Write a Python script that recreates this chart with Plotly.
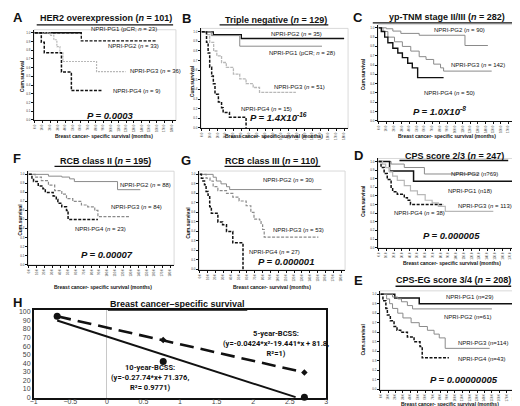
import plotly.graph_objects as go

W, H = 520, 406
BLACK = "#111111"
GRAY = "#8a8a8a"
LIGHT = "#b8b8b8"
FONT = "Arial, Liberation Sans"

# ---- Kaplan-Meier curves (months, cumulative survival) ----
A_PG1_T = [0, 61]
A_PG1_S = [1.0, 1.0]
A_PG2_T = [0, 61, 160]
A_PG2_S = [1.0, 0.906, 0.906]
A_PG3_T = [0, 20, 25, 29, 33, 37, 81, 119]
A_PG3_S = [1.0, 0.97, 0.92, 0.84, 0.77, 0.67, 0.555, 0.555]
A_PG4_T = [0, 8.6, 12.5, 35, 48, 89]
A_PG4_S = [1.0, 0.89, 0.77, 0.55, 0.337, 0.337]

B_PG2_T = [0, 14.6, 50, 180]
B_PG2_S = [1.0, 0.97, 0.93, 0.93]
B_PG1_T = [0, 12, 48, 152]
B_PG1_S = [1.0, 0.96, 0.85, 0.85]
B_PG3_T = [0, 6, 10, 15, 19, 25, 31, 40, 48, 56, 65, 73, 119]
B_PG3_S = [1.0, 0.97, 0.89, 0.80, 0.75, 0.68, 0.63, 0.56, 0.51, 0.46, 0.42, 0.37, 0.37]
B_PG4_T = [0, 6, 8, 10, 12.5, 14.6, 16.7, 21, 25, 27, 35, 56]
B_PG4_S = [1.0, 0.89, 0.78, 0.63, 0.54, 0.46, 0.35, 0.27, 0.21, 0.16, 0.11, 0.0]

C_PG2_T = [0, 10, 18.5, 29, 53, 113, 143]
C_PG2_S = [1.0, 0.99, 0.965, 0.94, 0.92, 0.81, 0.81]
C_PG3_T = [0, 5.6, 12, 20.7, 31, 42, 53, 62, 72, 81, 85, 148]
C_PG3_S = [1.0, 0.96, 0.90, 0.85, 0.80, 0.75, 0.69, 0.66, 0.61, 0.57, 0.535, 0.535]
C_PG4_T = [0, 3.4, 7.8, 12, 18.5, 25, 31, 38, 44, 51, 85]
C_PG4_S = [1.0, 0.96, 0.90, 0.84, 0.78, 0.73, 0.68, 0.62, 0.57, 0.465, 0.465]

D_PG2_T = [0, 16, 33, 59, 130]
D_PG2_S = [1.0, 0.97, 0.93, 0.855, 0.855]
D_PG1_T = [0, 14, 45, 180]
D_PG1_S = [1.0, 0.89, 0.77, 0.77]
D_PG3_T = [0, 5, 9, 14, 18, 24, 33, 41, 50, 60, 69, 77, 86, 148]
D_PG3_S = [1.0, 0.97, 0.93, 0.88, 0.83, 0.78, 0.72, 0.66, 0.615, 0.55, 0.52, 0.48, 0.42, 0.42]
D_PG4_T = [0, 3, 7, 11, 16, 18, 24, 33, 37, 41, 84]
D_PG4_S = [1.0, 0.93, 0.86, 0.79, 0.70, 0.65, 0.62, 0.58, 0.55, 0.50, 0.50]

E_PG1_T = [0, 19, 52, 180]
E_PG1_S = [1.0, 0.96, 0.90, 0.90]
E_PG2_T = [0, 16, 23, 28, 36, 43, 150]
E_PG2_S = [1.0, 0.97, 0.95, 0.92, 0.88, 0.845, 0.845]
E_PG3_T = [0, 8, 12, 16, 23, 30, 41, 52, 63, 72, 79, 87, 147]
E_PG3_S = [1.0, 0.95, 0.90, 0.85, 0.80, 0.75, 0.70, 0.66, 0.62, 0.58, 0.54, 0.43, 0.43]
E_PG4_T = [0, 3, 7, 9, 13, 18, 22, 27, 36, 45, 53, 56, 92]
E_PG4_S = [1.0, 0.93, 0.85, 0.78, 0.72, 0.66, 0.62, 0.60, 0.55, 0.50, 0.45, 0.33, 0.33]

F_PG2_T = [0, 25, 42, 52, 58, 113, 142]
F_PG2_S = [1.0, 0.98, 0.97, 0.95, 0.92, 0.83, 0.83]
F_PG3_T = [0, 8, 16, 25, 33, 42, 48, 56, 67, 75, 84, 88, 128]
F_PG3_S = [1.0, 0.97, 0.93, 0.88, 0.82, 0.78, 0.73, 0.70, 0.66, 0.64, 0.60, 0.53, 0.53]
F_PG4_T = [0, 4, 6, 12, 18, 21, 31, 35, 37, 42, 48, 50, 88]
F_PG4_S = [1.0, 0.96, 0.92, 0.87, 0.84, 0.80, 0.76, 0.72, 0.68, 0.64, 0.60, 0.50, 0.50]

G_PG2_T = [0, 17, 21, 27, 34, 38, 155]
G_PG2_S = [1.0, 0.97, 0.93, 0.90, 0.87, 0.84, 0.84]
G_PG3_T = [0, 8, 13, 17, 23, 34, 42, 50, 59, 65, 69, 76, 78, 80, 82, 151]
G_PG3_S = [1.0, 0.96, 0.93, 0.87, 0.83, 0.80, 0.76, 0.72, 0.67, 0.60, 0.53, 0.52, 0.47, 0.42, 0.34, 0.34]
G_PG4_T = [0, 2, 4, 6, 8, 10.5, 12.6, 14.7, 23, 29, 34, 42, 55]
G_PG4_S = [1.0, 0.96, 0.93, 0.89, 0.82, 0.78, 0.66, 0.59, 0.50, 0.47, 0.40, 0.28, 0.0]

MONTH_TICKS = list(range(0, 190, 10))
SURV_TICKS = [i / 10 for i in range(11)]

# ---- panel H: NPRI group score vs BCSS (%) ----
H_X = [-0.68, 0.77, 2.7]
H_BCSS5 = [95, 67, 29]
H_BCSS10 = [95, 42, 0]
H_FIT10_X = [-0.68, 2.58]
H_FIT10_Y = [90, 0]
H_XTICKS = [-1, -0.5, 0, 0.5, 1, 1.5, 2, 2.5, 3]
H_YTICKS = list(range(0, 101, 10))

# panel boxes in pixels: x at 0 months, x at 180 months, y at 1.0, y at 0.0
BOXES = {
    "A": (23, 162, 23, 111),
    "B": (192, 336, 22, 119),
    "C": (371, 510, 18, 112),
    "D": (371, 512, 153, 240),
    "E": (373, 508, 287, 383),
    "F": (17, 160, 166, 257),
    "G": (190, 333, 166, 262),
}
AXIS_ID = {"A": "", "B": "2", "C": "3", "D": "4", "E": "5", "F": "6", "G": "7"}

CURVES = [
    ("A", A_PG1_T, A_PG1_S, BLACK, 1.3, "solid"),
    ("A", A_PG2_T, A_PG2_S, BLACK, 1.3, "3px,1.5px"),
    ("A", A_PG3_T, A_PG3_S, LIGHT, 1.2, "2px,1px"),
    ("A", A_PG4_T, A_PG4_S, BLACK, 1.5, "3px,1.5px"),
    ("B", B_PG2_T, B_PG2_S, BLACK, 1.3, "solid"),
    ("B", B_PG1_T, B_PG1_S, GRAY, 1.0, "solid"),
    ("B", B_PG3_T, B_PG3_S, LIGHT, 1.3, "3px,1px"),
    ("B", B_PG4_T, B_PG4_S, BLACK, 1.5, "3px,1.5px"),
    ("C", C_PG2_T, C_PG2_S, GRAY, 1.0, "solid"),
    ("C", C_PG3_T, C_PG3_S, GRAY, 1.0, "solid"),
    ("C", C_PG4_T, C_PG4_S, BLACK, 1.4, "solid"),
    ("D", D_PG2_T, D_PG2_S, GRAY, 1.0, "solid"),
    ("D", D_PG1_T, D_PG1_S, BLACK, 1.5, "solid"),
    ("D", D_PG3_T, D_PG3_S, LIGHT, 1.2, "solid"),
    ("D", D_PG4_T, D_PG4_S, BLACK, 1.5, "3px,1.5px"),
    ("E", E_PG1_T, E_PG1_S, BLACK, 1.5, "solid"),
    ("E", E_PG2_T, E_PG2_S, GRAY, 1.0, "solid"),
    ("E", E_PG3_T, E_PG3_S, GRAY, 1.0, "solid"),
    ("E", E_PG4_T, E_PG4_S, BLACK, 1.5, "3px,1.5px"),
    ("F", F_PG2_T, F_PG2_S, GRAY, 1.0, "solid"),
    ("F", F_PG3_T, F_PG3_S, GRAY, 1.2, "3px,1.5px"),
    ("F", F_PG4_T, F_PG4_S, BLACK, 1.5, "3px,1.5px"),
    ("G", G_PG2_T, G_PG2_S, GRAY, 1.0, "solid"),
    ("G", G_PG3_T, G_PG3_S, GRAY, 1.2, "3px,1.5px"),
    ("G", G_PG4_T, G_PG4_S, BLACK, 1.5, "3px,1.5px"),
]

TITLES = {
    "A": ("HER2 overexpression (<i>n</i> = 101)", 95, 8, 25, 163, 15),
    "B": ("Triple negative (<i>n</i> = 129)", 267, 10, 210, 320, 15),
    "C": ("yp-TNM stage II/III (<i>n</i> = 282)", 440, 7, 365, 517, 13),
    "D": ("CPS score 2/3 (<i>n</i> = 247)", 448, 147, 392, 502, 152),
    "E": ("CPS-EG score 3/4 (<i>n</i> = 208)", 447, 273, 388, 505, 279),
    "F": ("RCB class II (<i>n</i> = 195)", 95, 152, 43, 140, 158),
    "G": ("RCB class III (<i>n</i> = 110)", 263, 152, 215, 312, 158),
}
LETTERS = {"A": (6, 8), "B": (177, 9), "C": (350, 8), "D": (351, 147),
           "E": (351, 273), "F": (5, 150), "G": (176, 152), "H": (6, 295)}
YTITLES = {"A": (10, 67), "B": (182, 72), "C": (355, 65), "D": (355, 193),
           "E": (355, 333), "F": (8, 212), "G": (178, 215)}
XTITLES = {"A": (93, 127), "B": (265, 127), "C": (440, 127), "D": (445, 256),
           "E": (443, 398), "F": (92, 280), "G": (263, 280)}

CURVE_LABELS = [
    ("NPRI-PG1 (pCR; <i>n</i> = 23)", 78, 19), ("NPRI-PG2 (<i>n</i> = 33)", 95, 36),
    ("NPRI-PG3 (<i>n</i> = 36)", 117, 62), ("NPRI-PG4 (<i>n</i> = 9)", 100, 82),
    ("NPRI-PG2 (<i>n</i> = 35)", 260, 24), ("NPRI-PG1 (pCR; <i>n</i> = 28)", 258, 43),
    ("NPRI-PG3 (<i>n</i> = 51)", 263, 78), ("NPRI-PG4 (<i>n</i> = 15)", 230, 100),
    ("NPRI-PG2 (<i>n</i> = 90)", 425, 20), ("NPRI-PG3 (<i>n</i> = 142)", 442, 56),
    ("NPRI-PG4 (<i>n</i> = 50)", 415, 84),
    ("NPRI-PG2 (n?69)", 442, 166), ("NPRI-PG1 (n18)", 439, 183),
    ("NPRI-PG3 (<i>n</i> = 113)", 449, 198), ("NPRI-PG4 (<i>n</i> = 38)", 384, 205),
    ("NPRI-PG1 (n=29)", 437, 290), ("NPRI-PG2 (n=61)", 435, 310),
    ("NPRI-PG3 (n=114)", 449, 336), ("NPRI-PG4 (n=43)", 449, 352),
    ("NPRI-PG2 (<i>n</i> = 88)", 107, 177), ("NPRI-PG3 (<i>n</i> = 84)", 98, 199),
    ("NPRI-PG4 (<i>n</i> = 23)", 62, 221),
    ("NPRI-PG2 (<i>n</i> = 30)", 252, 172), ("NPRI-PG3 (<i>n</i> = 53)", 262, 222),
    ("NPRI-PG4 (<i>n</i> = 27)", 238, 244),
]
P_VALUES = [
    ("<i>P</i> = 0.0003", 100, 107), ("<i>P</i> = 1.4X10<sup>-16</sup>", 270, 108),
    ("<i>P</i> = 1.0X10<sup>-8</sup>", 432, 102), ("<i>P</i> = 0.000005", 445, 228),
    ("<i>P</i> = 0.00000005", 457, 373), ("<i>P</i> = 0.00007", 96, 247),
    ("<i>P</i> = 0.000001", 277, 254),
]


def px(x, y):
    return x / W, 1 - y / H


def text(fig, s, x, y, size, bold=False, italic=False, anchor="center", angle=0, family=FONT):
    xx, yy = px(x, y)
    fig.add_annotation(
        x=xx, y=yy, xref="paper", yref="paper", text=s, showarrow=False,
        xanchor=anchor, yanchor="middle", textangle=angle,
        font=dict(family=family, size=size, color=BLACK,
                  weight="bold" if bold else "normal",
                  style="italic" if italic else "normal"),
    )


fig = go.Figure()
layout = {}

# KM panel axes
for key, (x0, x1, y1, y0) in BOXES.items():
    i = AXIS_ID[key]
    xs = (x1 - x0) / 180
    ys = (y0 - y1)
    xlo, xhi = -1, 185
    ylo, yhi = -0.005, 1.035
    left, right = x0 + xlo * xs, x0 + xhi * xs
    top, bottom = y0 - yhi * ys, y0 - ylo * ys
    layout[f"xaxis{i}"] = dict(
        domain=[left / W, right / W], range=[xlo, xhi], anchor=f"y{i}",
        tickvals=MONTH_TICKS, ticktext=[f"{v}.0" for v in MONTH_TICKS],
        tickangle=-90, tickfont=dict(size=3, family=FONT, color="#333"),
        showline=True, linecolor=BLACK, linewidth=1, ticks="outside",
        ticklen=2, tickwidth=0.6, tickcolor=BLACK, showgrid=False, zeroline=False,
    )
    layout[f"yaxis{i}"] = dict(
        domain=[1 - bottom / H, 1 - top / H], range=[ylo, yhi], anchor=f"x{i}",
        tickvals=SURV_TICKS, tickformat=".1f",
        tickfont=dict(size=3, family=FONT, color="#333"),
        showline=True, linecolor=BLACK, linewidth=1, ticks="outside",
        ticklen=2, tickwidth=0.6, tickcolor=BLACK, showgrid=False, zeroline=False,
    )
    fig.add_shape(type="rect", xref=f"x{i} domain", yref=f"y{i} domain",
                  x0=0, x1=1, y0=0, y1=1, line=dict(color="#cfcfcf", width=0.8),
                  layer="below")

for key, t, s, color, width, dash in CURVES:
    i = AXIS_ID[key]
    fig.add_trace(go.Scatter(
        x=t, y=s, mode="lines", line=dict(color=color, width=width, dash=dash, shape="hv"),
        xaxis=f"x{i}", yaxis=f"y{i}", showlegend=False, hoverinfo="skip",
    ))

# panel H
layout["xaxis8"] = dict(
    domain=[22 / W, 318 / W], range=[-1, 3], anchor="y8", tickvals=H_XTICKS,
    tickfont=dict(size=7, family=FONT, color="#444"), showline=True, mirror=True,
    linecolor=BLACK, linewidth=1.5, ticks="", showgrid=False,
    zeroline=True, zerolinecolor="#c8c8c8", zerolinewidth=1, ticklabelstandoff=-5,
)
layout["yaxis8"] = dict(
    domain=[1 - 392.3 / H, 1 - 303.3 / H], range=[-1.5, 102], anchor="x8",
    tickvals=H_YTICKS, tickfont=dict(size=7, family=FONT, color="#444"),
    showline=True, mirror=True, linecolor=BLACK, linewidth=1.5, ticks="",
    showgrid=False, zeroline=False,
)
fig.add_trace(go.Scatter(
    x=H_FIT10_X, y=H_FIT10_Y, mode="lines", line=dict(color=BLACK, width=2),
    xaxis="x8", yaxis="y8", showlegend=False, hoverinfo="skip",
))
fig.add_trace(go.Scatter(
    x=H_X, y=H_BCSS5, mode="lines+markers", line=dict(color=BLACK, width=2.6, dash="14px,7px"),
    marker=dict(symbol="diamond", size=5, color=BLACK),
    xaxis="x8", yaxis="y8", showlegend=False, hoverinfo="skip",
))
fig.add_trace(go.Scatter(
    x=H_X, y=H_BCSS10, mode="markers", marker=dict(symbol="circle", size=7, color=BLACK),
    xaxis="x8", yaxis="y8", showlegend=False, hoverinfo="skip", cliponaxis=False,
))

fig.update_layout(
    width=W, height=H, margin=dict(l=0, r=0, t=0, b=0),
    paper_bgcolor="white", plot_bgcolor="white", showlegend=False, **layout,
)

# titles, underlines, letters
for key, (s, cx, cy, u0, u1, uy) in TITLES.items():
    text(fig, s, cx, cy, 9, bold=True)
    fig.add_shape(type="line", xref="paper", yref="paper",
                  x0=u0 / W, x1=u1 / W, y0=1 - uy / H, y1=1 - uy / H,
                  line=dict(color=BLACK, width=1.3))
text(fig, "Breast cancer–specific survival", 167, 297, 9, bold=True)
fig.add_shape(type="line", xref="paper", yref="paper",
              x0=97 / W, x1=238 / W, y0=1 - 303 / H, y1=1 - 303 / H,
              line=dict(color=BLACK, width=1.3))
for key, (lx, ly) in LETTERS.items():
    text(fig, key, lx, ly, 13, bold=True)
for key, (tx, ty) in YTITLES.items():
    text(fig, "Cum.survival", tx, ty, 5, bold=True, angle=-90)
for key, (tx, ty) in XTITLES.items():
    label = "Breast cancer- survival (months)" if key == "G" else "Breast cancer- specific survival (months)"
    text(fig, label, tx, ty, 5, bold=True)
for s, lx, ly in CURVE_LABELS:
    text(fig, s, lx, ly, 6, anchor="left")
for s, cx, cy in P_VALUES:
    text(fig, s, cx, cy, 9.5, bold=True, italic=True)

NARROW = "Liberation Sans Narrow, Roboto, Arial"
text(fig, "5-year-BCSS:<br>(y=-0.0424*x²-19.441*x + 81.8,<br>R²=1)", 267, 337, 7.5,
     bold=True, family=NARROW)
text(fig, "10-year-BCSS:<br>(y=-0.27.74*x+ 71.376,<br>R²= 0.9771)", 140, 371, 7.5,
     bold=True, family=NARROW)

fig.write_html("out.html")
